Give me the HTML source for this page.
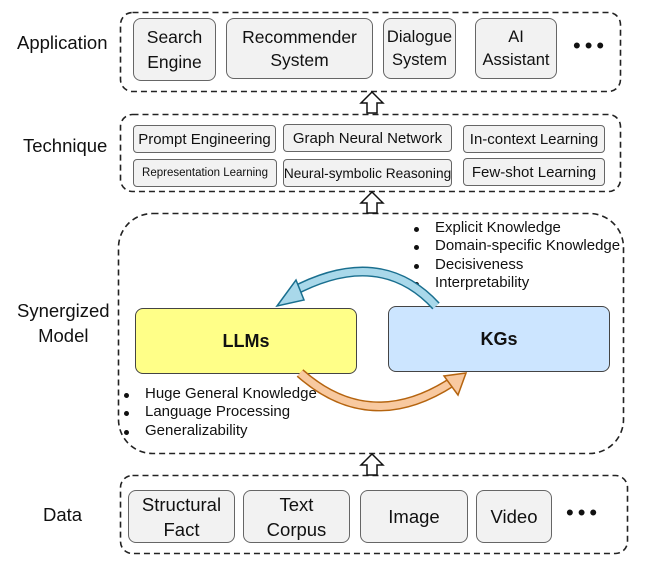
<!DOCTYPE html>
<html><head><style>
body{margin:0;width:647px;height:564px;background:#fff;position:relative;font-family:"Liberation Sans",sans-serif;color:#111;overflow:hidden}
.a{position:absolute}
.b{position:absolute;box-sizing:border-box;border:1.5px solid #666;background:#f2f2f2;border-radius:8px;display:flex;align-items:center;justify-content:center;text-align:center;font-size:16.5px;line-height:23px}
.c{position:absolute;box-sizing:border-box;border:1.5px solid #666;background:#f2f2f2;border-radius:4px;display:flex;align-items:center;justify-content:center;font-size:15px;white-space:nowrap}
.lab{position:absolute;font-size:18.5px;text-align:center}
.li{position:absolute;font-size:15px;white-space:nowrap}
.li:before{content:"";position:absolute;left:-21px;top:8px;width:5px;height:5px;border-radius:50%;background:#111}
</style></head><body>
<svg class="a" style="left:0;top:0" width="647" height="564">
<g fill="none" stroke="#222" stroke-width="1.6" stroke-dasharray="6,4">
<rect x="120.5" y="12.5" width="500" height="79" rx="12"/>
<rect x="120.5" y="114.5" width="500" height="77" rx="12"/>
<rect x="118.5" y="213.5" width="505" height="240" rx="34"/>
<rect x="120.5" y="475.5" width="507" height="78" rx="12"/>
</g>
</svg>
<div class="lab" style="left:17px;top:32px">Application</div>
<div class="lab" style="left:23px;top:135px">Technique</div>
<div class="lab" style="left:17px;top:298px;line-height:25px">Synergized<br>Model</div>
<div class="lab" style="left:43px;top:504px">Data</div>

<div class="b" style="left:133px;top:18px;width:83px;height:63px;font-size:17.5px;line-height:25px">Search<br>Engine</div>
<div class="b" style="left:226px;top:18px;width:147px;height:61px;font-size:17.5px">Recommender<br>System</div>
<div class="b" style="left:383px;top:18px;width:73px;height:61px">Dialogue<br>System</div>
<div class="b" style="left:475px;top:18px;width:82px;height:61px">AI<br>Assistant</div>
<div class="a" style="left:573px;top:33px;font-size:22px;letter-spacing:4px">•••</div>

<div class="c" style="left:133px;top:125px;width:143px;height:28px">Prompt Engineering</div>
<div class="c" style="left:283px;top:124px;width:169px;height:28px">Graph Neural Network</div>
<div class="c" style="left:463px;top:125px;width:142px;height:28px">In-context Learning</div>
<div class="c" style="left:133px;top:159px;width:144px;height:28px;font-size:11.5px">Representation Learning</div>
<div class="c" style="left:283px;top:159px;width:169px;height:28px;font-size:13.7px">Neural-symbolic Reasoning</div>
<div class="c" style="left:463px;top:158px;width:142px;height:28px">Few-shot Learning</div>

<div class="a" style="left:135px;top:308px;width:222px;height:66px;box-sizing:border-box;border:1.5px solid #444;border-radius:8px;background:#ffff88;display:flex;align-items:center;justify-content:center;font-weight:bold;font-size:18px">LLMs</div>
<div class="a" style="left:388px;top:306px;width:222px;height:66px;box-sizing:border-box;border:1.5px solid #444;border-radius:8px;background:#cce5ff;display:flex;align-items:center;justify-content:center;font-weight:bold;font-size:18px">KGs</div>

<div class="li" style="left:435px;top:219px">Explicit Knowledge</div>
<div class="li" style="left:435px;top:237px">Domain-specific Knowledge</div>
<div class="li" style="left:435px;top:256px">Decisiveness</div>
<div class="li" style="left:435px;top:274px">Interpretability</div>
<div class="li" style="left:145px;top:385px">Huge General Knowledge</div>
<div class="li" style="left:145px;top:403px">Language Processing</div>
<div class="li" style="left:145px;top:422px">Generalizability</div>

<svg class="a" style="left:0;top:0" width="647" height="564">
<g stroke-linecap="butt" fill="none">
<path d="M436,306 Q380,245 292,292" stroke="#1a6f8f" stroke-width="10"/>
<path d="M436,306 Q380,245 292,292" stroke="#a9d8ea" stroke-width="7"/>
<path d="M300,373 Q370,435 452,382" stroke="#b5640f" stroke-width="10"/>
<path d="M300,373 Q370,435 452,382" stroke="#f8c9a0" stroke-width="7"/>
</g>
<polygon points="277,306 296,280 304,300" fill="#a9d8ea" stroke="#1a6f8f" stroke-width="1.5"/>
<polygon points="466,373 444,376 458,395" fill="#f8c9a0" stroke="#b5640f" stroke-width="1.5"/>
<g fill="#fff" stroke="#111" stroke-width="1.5">
<polygon points="372,92 383,103 377,103 377,113 367,113 367,103 361,103"/>
<polygon points="372,192 383,203 377,203 377,213 367,213 367,203 361,203"/>
<polygon points="372,454 383,465 377,465 377,475 367,475 367,465 361,465"/>
</g>
</svg>

<div class="b" style="left:128px;top:490px;width:107px;height:53px;font-size:18.5px;line-height:25px">Structural<br>Fact</div>
<div class="b" style="left:243px;top:490px;width:107px;height:53px;font-size:18.5px;line-height:25px">Text<br>Corpus</div>
<div class="b" style="left:360px;top:490px;width:108px;height:53px;font-size:18.5px">Image</div>
<div class="b" style="left:476px;top:490px;width:76px;height:53px;font-size:18.5px">Video</div>
<div class="a" style="left:566px;top:500px;font-size:22px;letter-spacing:4px">•••</div>
</body></html>
